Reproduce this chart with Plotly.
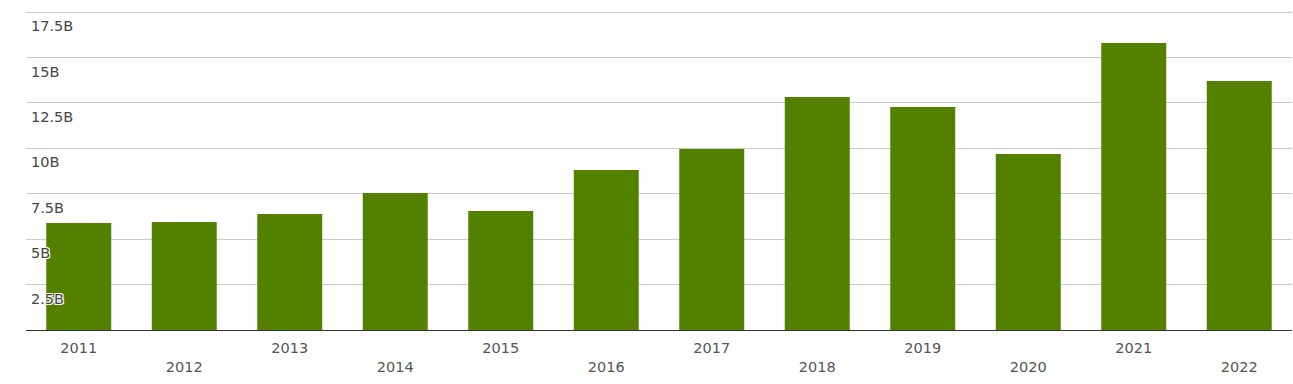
import plotly.graph_objects as go

years = ["2011", "2012", "2013", "2014", "2015", "2016", "2017", "2018", "2019", "2020", "2021", "2022"]
values_b = [5.89, 5.94, 6.38, 7.54, 6.55, 8.81, 9.96, 12.82, 12.27, 9.69, 15.80, 13.70]
ytick_vals = [2.5, 5, 7.5, 10, 12.5, 15, 17.5]
ytick_text = ["2.5B", "5B", "7.5B", "10B", "12.5B", "15B", "17.5B"]

xtick_text = [y if i % 2 == 0 else "<br>" + y for i, y in enumerate(years)]

fig = go.Figure()
fig.add_trace(go.Bar(
    x=years,
    y=values_b,
    marker=dict(color="#548000", line=dict(width=0)),
    hoverinfo="skip",
))

shadow = "1px 1px 0 #fff, -1px -1px 0 #fff, 1px -1px 0 #fff, -1px 1px 0 #fff"

for v, t in zip(ytick_vals, ytick_text):
    fig.add_annotation(
        x=0, xref="paper", xanchor="left", xshift=3,
        y=v, yref="y", yanchor="top", yshift=-4,
        text=t, showarrow=False,
        font=dict(family="DejaVu Sans", size=14.5, color="#444444", shadow=shadow),
    )

fig.update_layout(
    width=1293,
    height=384,
    margin=dict(l=26, r=1, t=11, b=54),
    paper_bgcolor="white",
    plot_bgcolor="white",
    bargap=0.384,
    showlegend=False,
    font=dict(family="DejaVu Sans", size=14.5, color="#444444"),
    xaxis=dict(
        type="category",
        range=[-0.5, 11.5],
        tickmode="array",
        tickvals=years,
        ticktext=xtick_text,
        showgrid=False,
        showline=True,
        linecolor="#333333",
        linewidth=1,
        ticks="",
        ticklabelstandoff=5,
        tickfont=dict(family="DejaVu Sans", size=14.5, color="#555555"),
        fixedrange=True,
    ),
    yaxis=dict(
        range=[0, 17.56],
        tickmode="array",
        tickvals=ytick_vals,
        showticklabels=False,
        showgrid=True,
        gridcolor="#cccccc",
        gridwidth=1,
        zeroline=False,
        showline=False,
        ticks="",
        fixedrange=True,
    ),
)

fig.write_html("out.html")
